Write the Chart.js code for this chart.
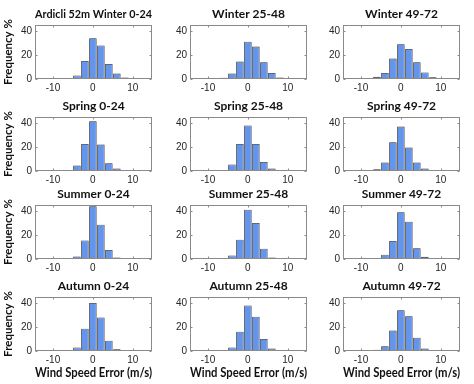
<!DOCTYPE html>
<html>
<head>
<meta charset="utf-8">
<script src="https://cdn.jsdelivr.net/npm/chart.js@4.4.1/dist/chart.umd.min.js"></script>
<style>
html, body { margin: 0; padding: 0; background: #fff; }
#grid { position: relative; width: 474px; height: 384px; overflow: hidden; }
.cell { position: absolute; }
</style>
</head>
<body>
<div id="grid"></div>
<script>
// histogram bin centres (m/s) and frequency (%) per season / lead time
const binCenters = [-12, -10, -8, -6, -4, -2, 0, 2, 4, 6, 8, 10, 12];

const winter0024 = [0, 0.1, 0.2, 0.5, 3, 15, 34, 28, 12.5, 4.5, 1.2, 0.3, 0.1];
const winter2548 = [0, 0.1, 0.5, 1, 4.5, 14.5, 31, 27, 14, 5, 1.2, 0.4, 0.2];
const winter4972 = [0, 0.2, 0.6, 1.8, 5, 17, 29, 25, 14, 5.5, 1.5, 0.4, 0.1];

const spring0024 = [0, 0, 0, 0.3, 4.5, 22.5, 41.5, 22, 6.5, 2, 0.5, 0, 0];
const spring2548 = [0, 0, 0, 0.5, 5.5, 22.5, 38, 22.5, 7.5, 2, 0.5, 0.2, 0];
const spring4972 = [0, 0, 0, 1.5, 7, 24, 37, 19.5, 7, 2, 0.5, 0.2, 0];

const summer0024 = [0, 0, 0, 0.3, 2, 15.5, 44, 28.5, 7.5, 1.2, 0.3, 0, 0];
const summer2548 = [0, 0, 0, 0.3, 3, 16, 41, 30, 8.5, 1.2, 0.3, 0, 0];
const summer4972 = [0, 0, 0, 0.5, 3.5, 15, 39, 31, 9, 1.8, 0.3, 0, 0];

const autumn0024 = [0, 0, 0, 0.3, 3, 18.5, 40, 28, 8.5, 1.5, 0.5, 0, 0];
const autumn2548 = [0, 0, 0, 0.5, 3, 16, 38, 28.5, 10, 2, 0.3, 0, 0];
const autumn4972 = [0, 0, 0.3, 1, 4, 17, 34, 29, 11, 2, 0.5, 0, 0];

const panelTitles = [
    ['Ardicli 52m Winter 0-24', 'Winter 25-48', 'Winter 49-72'],
    ['Spring 0-24', 'Spring 25-48', 'Spring 49-72'],
    ['Summer 0-24', 'Summer 25-48', 'Summer 49-72'],
    ['Autumn 0-24', 'Autumn 25-48', 'Autumn 49-72']
];
const panelValues = [
    [winter0024, winter2548, winter4972],
    [spring0024, spring2548, spring4972],
    [summer0024, summer2548, summer4972],
    [autumn0024, autumn2548, autumn4972]
];

const xTicks = [-10, 0, 10];
const yTicks = [0, 20, 40];
const yLabel = 'Frequency %';
const xLabel = 'Wind Speed Error (m/s)';

// plot area placement (pixels in the 474x384 page)
const colLeft = [35, 190, 343];
const rowTop = [25, 117, 205, 297];
const areaW = 117, areaH = 54;
const titleH = 20;

// MATLAB style box around the axes with small inward ticks
const boxFrame = {
    id: 'boxFrame',
    afterDraw(chart) {
        const { ctx, chartArea: a, scales } = chart;
        const l = Math.round(a.left) + 0.5, t = Math.round(a.top) + 0.5;
        const r = Math.round(a.right) - 0.5, b = Math.round(a.bottom) - 0.5;
        ctx.save();
        ctx.strokeStyle = '#8a8a8a';
        ctx.lineWidth = 1;
        ctx.strokeRect(l, t, r - l, b - t);
        ctx.beginPath();
        xTicks.forEach(v => {
            const px = Math.round(scales.x.getPixelForValue(v)) + 0.5;
            ctx.moveTo(px, b); ctx.lineTo(px, b - 2);
            ctx.moveTo(px, t); ctx.lineTo(px, t + 2);
        });
        yTicks.forEach(v => {
            const py = Math.round(scales.y.getPixelForValue(v)) + 0.5;
            ctx.moveTo(l, py); ctx.lineTo(l + 2, py);
            ctx.moveTo(r, py); ctx.lineTo(r - 2, py);
        });
        ctx.stroke();
        ctx.restore();
    }
};

const grid = document.getElementById('grid');

panelValues.forEach((rowVals, row) => {
    rowVals.forEach((vals, col) => {
        const leftW = col === 0 ? 35 : 30;
        const bottomH = row === 3 ? 34 : 16;
        const w = leftW * 2 + areaW;
        const h = titleH + areaH + bottomH;

        const div = document.createElement('div');
        div.className = 'cell';
        div.style.left = (colLeft[col] - leftW) + 'px';
        div.style.top = (rowTop[row] - titleH) + 'px';
        div.style.width = w + 'px';
        div.style.height = h + 'px';
        const canvas = document.createElement('canvas');
        div.appendChild(canvas);
        grid.appendChild(div);

        new Chart(canvas, {
            type: 'bar',
            data: {
                datasets: [{
                    data: binCenters.map((c, i) => ({ x: c, y: vals[i] })),
                    backgroundColor: '#6495ed',
                    borderColor: '#262626',
                    borderWidth: 0.8,
                    borderSkipped: false,
                    barPercentage: 0.94,
                    categoryPercentage: 1
                }]
            },
            options: {
                responsive: true,
                maintainAspectRatio: false,
                animation: false,
                layout: { padding: { top: 0, right: leftW, bottom: 0, left: 0 } },
                plugins: {
                    legend: { display: false },
                    tooltip: { enabled: false },
                    title: {
                        display: true,
                        fullSize: false,
                        text: panelTitles[row][col],
                        color: '#111',
                        font: { family: 'Lato', size: 12, weight: 'bold', lineHeight: 1 },
                        padding: { top: 3, bottom: 5 }
                    }
                },
                scales: {
                    x: {
                        type: 'linear',
                        offset: false,
                        min: -14.5,
                        max: 14.8,
                        grid: { display: false, drawTicks: false },
                        border: { display: false },
                        afterBuildTicks: s => { s.ticks = xTicks.map(v => ({ value: v })); },
                        afterFit: s => { s.height = bottomH; },
                        ticks: {
                            color: '#262626',
                            padding: 3,
                            maxRotation: 0,
                            font: { family: 'Liberation Sans', size: 10 }
                        },
                        title: {
                            display: row === 3,
                            text: xLabel,
                            color: '#111',
                            font: { family: 'Lato', size: 13, weight: 'bold', lineHeight: 1.2 },
                            padding: { top: 0, bottom: 4 }
                        }
                    },
                    y: {
                        min: 0,
                        max: 45,
                        grid: { display: false, drawTicks: false },
                        border: { display: false },
                        afterBuildTicks: s => { s.ticks = yTicks.map(v => ({ value: v })); },
                        afterFit: s => { s.width = leftW; },
                        ticks: {
                            color: '#262626',
                            padding: 3,
                            font: { family: 'Liberation Sans', size: 10 }
                        },
                        title: {
                            display: col === 0,
                            text: yLabel,
                            color: '#111',
                            font: { family: 'Lato', size: 11.5, weight: 'bold', lineHeight: 1.2 },
                            padding: { top: 1, bottom: 0 }
                        }
                    }
                }
            },
            plugins: [boxFrame]
        });
    });
});
</script>
</body>
</html>
